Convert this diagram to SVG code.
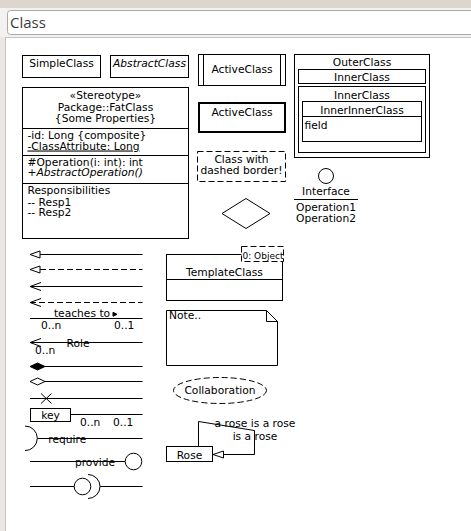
<svg xmlns="http://www.w3.org/2000/svg" width="471" height="531" viewBox="0 0 471 531">
<style>
.s{fill:none;stroke:#000;stroke-width:1}
.w{fill:#fff;stroke:#000;stroke-width:1}
.d{stroke-dasharray:6,3}
.b{fill:#000;stroke:#000;stroke-width:1}
text{font-family:"DejaVu Sans","Liberation Sans",sans-serif;font-size:10.7px;fill:#000}
.c{text-anchor:middle}
.i{font-style:italic}
.sm{font-size:9px}
</style>
<!-- window chrome -->
<rect x="0" y="0" width="471" height="531" fill="#ebe7e2"/>
<rect x="0" y="0" width="471" height="8" fill="#ddd6cf"/>
<rect x="0" y="8" width="471" height="29" fill="#f4f2f0"/>
<rect x="7.5" y="10.5" width="470" height="24" rx="3" fill="#fff" stroke="#a9a9a9"/>
<text x="10" y="28" style="font-family:'Open Sans','DejaVu Sans',sans-serif;font-size:15px;fill:#3c3c3c">Class</text>
<rect x="5.5" y="37.5" width="470" height="500" fill="#fff" stroke="#c4c4c4"/>

<g id="simpleclass">
<rect class="w" x="22.5" y="55.5" width="78" height="22"/>
<text class="c" x="61.5" y="67">SimpleClass</text>
</g>
<g id="abstractclass">
<rect class="w" x="110.5" y="55.5" width="78" height="22"/>
<text class="c i" x="149.5" y="67">AbstractClass</text>
</g>
<g id="fatclass">
<rect class="w" x="22.5" y="87.5" width="166" height="151"/>
<line class="s" x1="22.5" y1="128.5" x2="188.5" y2="128.5"/>
<line class="s" x1="22.5" y1="155.5" x2="188.5" y2="155.5"/>
<line class="s" x1="22.5" y1="183.5" x2="188.5" y2="183.5"/>
<text class="c" x="105.5" y="99">«Stereotype»</text>
<text class="c" x="105.5" y="110.5">Package::FatClass</text>
<text class="c" x="105.5" y="122">{Some Properties}</text>
<text x="27.5" y="138.5">-id: Long {composite}</text>
<text x="27.5" y="149.5" text-decoration="underline">-ClassAttribute: Long</text>
<text x="27.5" y="165.5">#Operation(i: int): int</text>
<text class="i" x="27.5" y="176">+AbstractOperation()</text>
<text x="27.5" y="194">Responsibilities</text>
<text x="27.5" y="205.5">-- Resp1</text>
<text x="27.5" y="216">-- Resp2</text>
</g>
<g id="activeclass1">
<rect class="w" x="198.5" y="54.5" width="87" height="31"/>
<line class="s" x1="203.5" y1="54.5" x2="203.5" y2="85.5"/>
<line class="s" x1="280.5" y1="54.5" x2="280.5" y2="85.5"/>
<text class="c" x="242" y="73">ActiveClass</text>
</g>
<g id="activeclass2">
<rect x="199" y="103" width="86" height="29" fill="#fff" stroke="#000" stroke-width="2"/>
<text class="c" x="242" y="116">ActiveClass</text>
</g>
<g id="dashedclass">
<rect class="w d" x="197.5" y="151.5" width="88" height="30"/>
<text class="c" x="241.5" y="162.5">Class with</text>
<text class="c" x="241.5" y="173.5">dashed border!</text>
</g>
<g id="diamond">
<polygon class="w" points="246,198.5 270,213.5 246,228.5 222,213.5"/>
</g>
<g id="outerclass">
<rect class="w" x="294.5" y="54.5" width="135" height="103"/>
<text class="c" x="362" y="66">OuterClass</text>
<rect class="w" x="298.5" y="69.5" width="127" height="14"/>
<text class="c" x="362" y="81">InnerClass</text>
<rect class="w" x="298.5" y="86.5" width="127" height="66"/>
<text class="c" x="362" y="98.5">InnerClass</text>
<rect class="w" x="302.5" y="101.5" width="119" height="40"/>
<line class="s" x1="302.5" y1="116.5" x2="421.5" y2="116.5"/>
<text class="c" x="362" y="113.5">InnerInnerClass</text>
<text x="304.5" y="128.5">field</text>
</g>
<g id="interface">
<circle class="w" cx="326" cy="176" r="7.5"/>
<text class="c" x="326" y="194.5">Interface</text>
<line class="s" x1="294" y1="199.5" x2="358" y2="199.5"/>
<text x="296" y="211">Operation1</text>
<text x="296" y="222">Operation2</text>
</g>
<g id="templateclass">
<rect class="w" x="166.5" y="254.5" width="116" height="46"/>
<line class="s" x1="166.5" y1="279.5" x2="282.5" y2="279.5"/>
<text class="c" x="224.5" y="275.5">TemplateClass</text>
<rect class="w d" x="241.5" y="246.5" width="42" height="15"/>
<text class="sm" x="242.5" y="258.5">0: Object</text>
</g>
<g id="note">
<path class="w" d="M166.5,310.5 H266.5 L277.5,321.5 V365.5 H166.5 Z"/>
<path class="s" d="M266.5,310.5 V321.5 H277.5"/>
<text x="169" y="318.5">Note..</text>
</g>
<g id="collaboration">
<ellipse class="w d" cx="220" cy="390.5" rx="46.5" ry="13"/>
<text class="c" x="220" y="394">Collaboration</text>
</g>
<g id="rose">
<rect class="w" x="166.5" y="446.5" width="46" height="15"/>
<text class="c" x="189.5" y="458.5">Rose</text>
</g>

<g id="connectors">
<!-- rose self association -->
<polyline class="s" points="198.5,446.5 198.5,421.5 254.5,430.5 254.5,454.5 223.5,454.5"/>
<polygon class="w" points="213,454.5 223.5,451 223.5,458"/>
<text class="c" x="255" y="427">a rose is a rose</text>
<text class="c" x="255" y="440">is a rose</text>

<!-- generalization -->
<line class="s" x1="40" y1="254.5" x2="142.5" y2="254.5"/>
<polygon class="w" points="30,254.5 40,251 40,258"/>
<!-- realization -->
<line class="s d" x1="40" y1="269.5" x2="142.5" y2="269.5"/>
<polygon class="w" points="30,269.5 40,266 40,273"/>
<!-- association arrow -->
<line class="s" x1="30" y1="286.5" x2="142.5" y2="286.5"/>
<polyline class="s" points="41,282.5 30,286.5 41,290.5"/>
<!-- dependency -->
<line class="s d" x1="30" y1="302.5" x2="142.5" y2="302.5"/>
<polyline class="s" points="41,298.5 30,302.5 41,306.5"/>
<!-- named association -->
<text class="c" x="82" y="316.5">teaches to</text>
<polygon class="b" points="113,312.3 117,314.3 113,316.3"/>
<line class="s" x1="30" y1="318.5" x2="142.5" y2="318.5"/>
<text x="41" y="328.5">0..n</text>
<text x="114" y="328.5">0..1</text>
<!-- role -->
<line class="s" x1="30" y1="342.5" x2="142.5" y2="342.5"/>
<polyline class="s" points="41,338.5 30,342.5 41,346.5"/>
<text x="66.5" y="347">Role</text>
<text x="35" y="354">0..n</text>
<!-- composition -->
<line class="s" x1="45" y1="366.5" x2="142.5" y2="366.5"/>
<polygon class="b" points="30,366.5 37.5,363 45,366.5 37.5,370"/>
<!-- aggregation -->
<line class="s" x1="45" y1="381.5" x2="142.5" y2="381.5"/>
<polygon class="w" points="30,381.5 37.5,378 45,381.5 37.5,385"/>
<!-- non-navigable -->
<line class="s" x1="30" y1="398.5" x2="142.5" y2="398.5"/>
<line class="s" x1="41" y1="393.5" x2="51.5" y2="403.5"/>
<line class="s" x1="51.5" y1="393.5" x2="41" y2="403.5"/>
<!-- qualifier -->
<rect class="w" x="30.5" y="408.5" width="40" height="13"/>
<text class="c" x="50.5" y="418.5">key</text>
<line class="s" x1="70.5" y1="414.5" x2="142.5" y2="414.5"/>
<text x="80" y="425.5">0..n</text>
<text x="113" y="425.5">0..1</text>
<!-- require -->
<path class="s" d="M25,426 A12.3,12.3 0 0 1 25,450.6"/>
<line class="s" x1="37.3" y1="438.5" x2="142.5" y2="438.5"/>
<text x="48.3" y="443">require</text>
<!-- provide -->
<line class="s" x1="30" y1="461.5" x2="125" y2="461.5"/>
<circle class="w" cx="133.5" cy="461.5" r="8.3"/>
<text class="c" x="95" y="466">provide</text>
<!-- assembly -->
<line class="s" x1="30" y1="486.5" x2="74" y2="486.5"/>
<circle class="w" cx="82.5" cy="486.5" r="8.3"/>
<path class="s" d="M88,474.5 A12,12 0 0 1 88,498.5"/>
<line class="s" x1="100" y1="486.5" x2="142.5" y2="486.5"/>
</g>
</svg>
